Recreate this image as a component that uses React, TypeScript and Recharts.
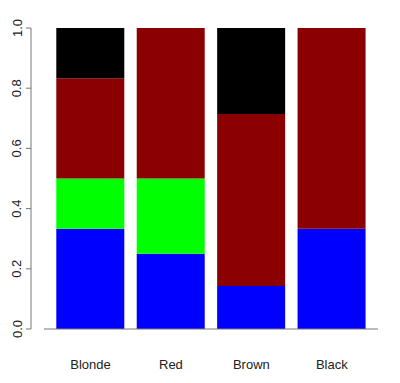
import { Bar, BarChart, XAxis, YAxis } from 'recharts'

const categories = ['Blonde', 'Red', 'Brown', 'Black']
const blue = [0.333, 0.25, 0.143, 0.333]
const green = [0.167, 0.25, 0, 0]
const darkred = [0.333, 0.5, 0.571, 0.667]
const black = [0.167, 0, 0.286, 0]
const yTicks = [0, 0.2, 0.4, 0.6, 0.8, 1]

const data = categories.map((name, i) => ({
  name,
  blue: blue[i],
  green: green[i],
  darkred: darkred[i],
  black: black[i],
}))

const font = 'Liberation Sans, Arial, Helvetica, sans-serif'
// base R draws the y axis a little left of the plot region
const axisShift = 'translate(-13, 0)'

function YTick({ y, payload }: any) {
  return (
    <text
      x={21.5}
      y={y}
      transform={`rotate(-90, 21.5, ${y})`}
      textAnchor="middle"
      fontSize={13}
      fontFamily={font}
      fill="#222"
    >
      {payload.value.toFixed(1)}
    </text>
  )
}

export default function App() {
  return (
    <div style={{ position: 'absolute', left: 0, top: 0, background: '#fff' }}>
      <BarChart
        width={400}
        height={383}
        data={data}
        margin={{ top: 28, right: 22, left: 0, bottom: 0 }}
        barSize={68}
      >
        <XAxis
          dataKey="name"
          height={54}
          padding={{ left: 6.3, right: 6 }}
          stroke="#777"
          tickLine={false}
          tickSize={0}
          tickMargin={31}
          tick={{ fontSize: 13, fontFamily: font, fill: '#222' }}
        />
        <YAxis
          width={44}
          domain={[0, 1]}
          ticks={yTicks}
          interval={0}
          tickSize={5}
          axisLine={{ stroke: '#777', transform: axisShift }}
          tickLine={{ stroke: '#777', transform: axisShift }}
          tick={<YTick />}
        />
        <Bar dataKey="blue" stackId="a" fill="#0000FF" isAnimationActive={false} />
        <Bar dataKey="green" stackId="a" fill="#00FF00" isAnimationActive={false} />
        <Bar dataKey="darkred" stackId="a" fill="#8B0000" isAnimationActive={false} />
        <Bar dataKey="black" stackId="a" fill="#000000" isAnimationActive={false} />
      </BarChart>
    </div>
  )
}
